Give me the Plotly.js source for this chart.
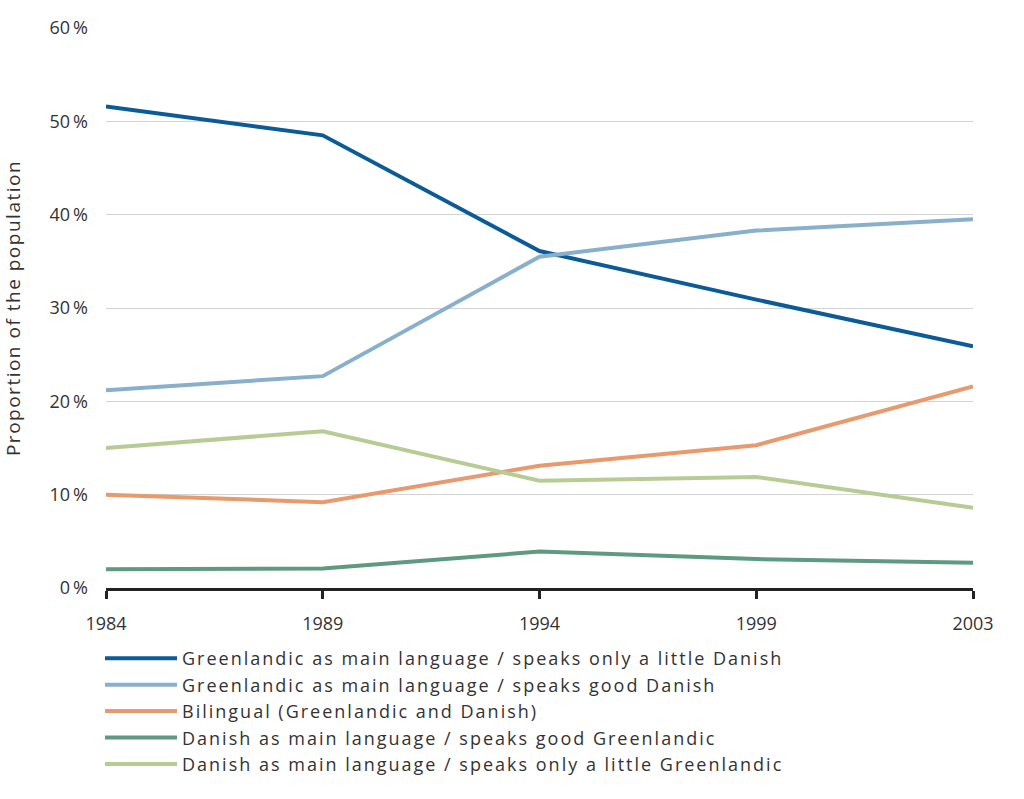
<!DOCTYPE html>
<html>
<head>
<meta charset="utf-8">
<script src="https://cdn.plot.ly/plotly-3.0.1.min.js"></script>
<style>
  html, body { margin: 0; padding: 0; background: #fff; }
  #chart { width: 1024px; height: 799px; }
  /* the original typeface is wider than anything installed;
     left unscoped so plotly's hidden text tester measures it too */
  .legendtext { letter-spacing: 2px; }
  .ytitle { letter-spacing: 1.5px; }
</style>
</head>
<body>
<div id="chart"></div>
<script>
// survey years (evenly spaced in the original, so category axis)
var years = ['1984', '1989', '1994', '1999', '2003']

var series_names = [
    'Greenlandic as main language / speaks only a little Danish',
    'Greenlandic as main language / speaks good Danish',
    'Bilingual (Greenlandic and Danish)',
    'Danish as main language / speaks good Greenlandic',
    'Danish as main language / speaks only a little Greenlandic'
]

// share of population, %
var greenl_little_danish = [51.6, 48.5, 36.1, 30.9, 25.9]
var greenl_good_danish = [21.2, 22.7, 35.5, 38.3, 39.5]
var bilingual = [10.0, 9.2, 13.1, 15.3, 21.6]
var danish_good_greenl = [2.0, 2.1, 3.9, 3.1, 2.7]
var danish_little_greenl = [15.0, 16.8, 11.5, 11.9, 8.6]

var y_ticks = [0, 10, 20, 30, 40, 50, 60]
var y_tick_labels = y_ticks.map(function (v) { return v + '\u2009%' })

var colors = ['#0b5b98', '#88afcb', '#e8996d', '#5e9a82', '#b7cc95']

var all_values = [greenl_little_danish, greenl_good_danish, bilingual, danish_good_greenl, danish_little_greenl]

var traces = []
for (var i = 0; i < all_values.length; i++) {
    traces.push({
        x: years,
        y: all_values[i],
        name: series_names[i],
        type: 'scatter',
        mode: 'lines',
        line: { color: colors[i], width: 4 },
        hoverinfo: 'skip'
    })
}

var font_family = '"Open Sans", "DejaVu Sans", sans-serif'

var layout = {
    width: 1024,
    height: 799,
    margin: { l: 106, r: 51, t: 28, b: 211 },
    paper_bgcolor: '#fff',
    plot_bgcolor: '#fff',
    font: { family: font_family, size: 18, color: '#333' },
    showlegend: true,
    legend: {
        orientation: 'v',
        x: -0.0069,
        xanchor: 'left',
        y: -0.093,
        yanchor: 'top',
        itemwidth: 72,
        traceorder: 'normal',
        font: { family: font_family, size: 18, color: '#333' },
        bgcolor: 'rgba(0,0,0,0)'
    },
    xaxis: {
        type: 'category',
        range: [0, 4],
        showgrid: false,
        showline: true,
        linecolor: '#222',
        linewidth: 3,
        ticks: 'outside',
        ticklen: 8,
        tickwidth: 3,
        tickcolor: '#222',
        ticklabelstandoff: 9,
        tickfont: { size: 18, color: '#333' },
        fixedrange: true,
        automargin: false
    },
    yaxis: {
        range: [0, 60],
        tickmode: 'array',
        tickvals: y_ticks,
        ticktext: y_tick_labels,
        showgrid: true,
        gridcolor: '#d3d3d3',
        gridwidth: 1,
        zeroline: false,
        showline: false,
        ticks: '',
        ticklabelstandoff: 17,
        tickfont: { size: 18, color: '#333' },
        title: {
            text: 'Proportion of the population',
            font: { size: 19, color: '#333' },
            standoff: 40
        },
        fixedrange: true,
        automargin: false
    }
}

var config = {
    displaylogo: false,
    displayModeBar: false,
    staticPlot: true,
    responsive: false
}

Plotly.newPlot('chart', traces, layout, config)
</script>
</body>
</html>
